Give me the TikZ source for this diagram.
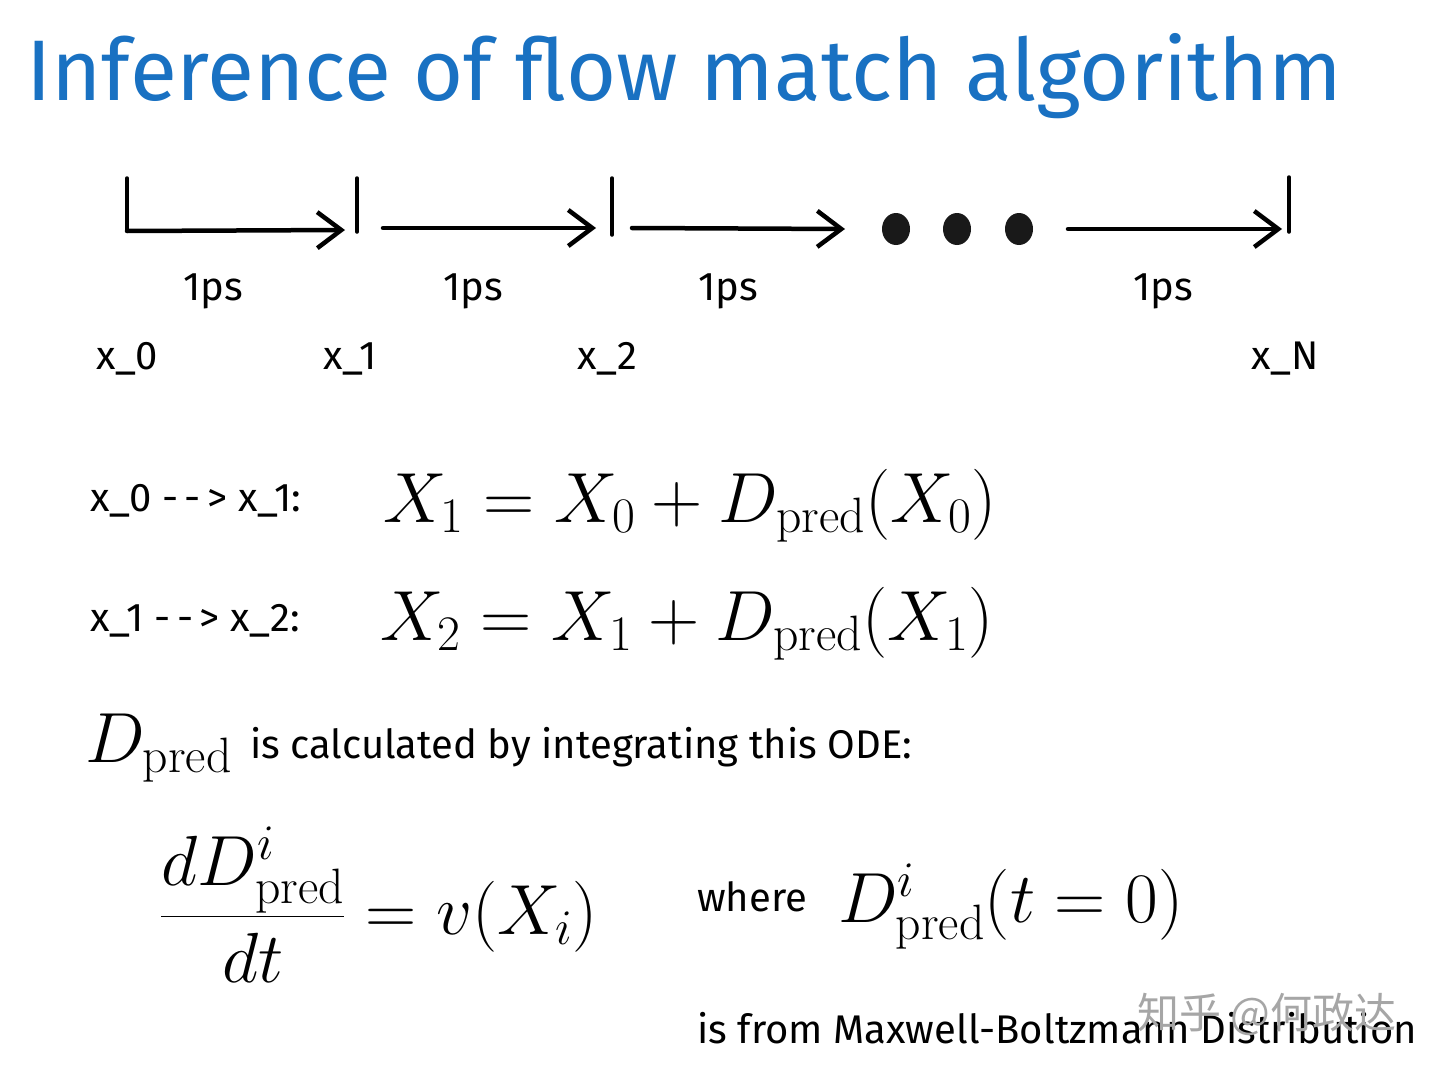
\documentclass[tikz,border=0pt]{standalone}
\usepackage{fix-cm}
\usepackage{amsmath}
\usepackage{fontspec}
\newfontfamily\handfont{Fira Sans}
\newfontfamily\cjkfont{Noto Sans CJK SC}
\usepackage{tikz}
\usetikzlibrary{arrows.meta, positioning, shapes.geometric}
\definecolor{titleblue}{HTML}{1971C2}

\begin{document}
\begin{tikzpicture}[
  x=1pt, y=-1pt,
  hand/.style={font=\handfont\fontsize{40}{48}\selectfont, inner sep=0pt},
  eq/.style={font=\fontsize{71}{85}\selectfont, inner sep=0pt},
  tick/.style={line width=3.5pt, line cap=round},
  steparrow/.style={line width=4.5pt, line cap=round, -{Straight Barb[length=24pt, width=36pt, line width=4.5pt]}},
  dotmark/.style={ellipse, fill=black!90, minimum width=28pt, minimum height=32pt, inner sep=0pt}
]
\useasboundingbox (0,0) rectangle (1440,1073);

% title
\node[font=\handfont\fontsize{86}{100}\selectfont, text=titleblue, anchor=base west, inner sep=0pt] (title) at (26,100) {Inference of flow match algorithm};

% time line
\coordinate (t0top) at (127,178);
\coordinate (t0) at (127,231);
\coordinate (t1top) at (357,178);
\coordinate (t1) at (357,232);
\coordinate (t2top) at (612,178);
\coordinate (t2) at (612,235);
\coordinate (tNtop) at (1289,177);
\coordinate (tN) at (1289,232);

\draw[tick] (t0top) -- (t0);
\draw[tick] (t1top) -- (t1);
\draw[tick] (t2top) -- (t2);
\draw[tick] (tNtop) -- (tN);

\node[dotmark] (dot1) at (896,229) {};
\node[dotmark] (dot2) at (957,229) {};
\node[dotmark] (dot3) at (1019,229) {};

\coordinate (s1) at (383,228);
\coordinate (e1) at (596,228);
\coordinate (s2) at (632,228);
\coordinate (e2) at (845,229);
\coordinate (s3) at (1068,229);
\coordinate (e3) at (1282,229);
\coordinate (e0) at (345,230);

\draw[steparrow] (t0) -- (e0);
\draw[steparrow] (s1) -- (e1);
\draw[steparrow] (s2) -- (e2);
\draw[steparrow] (s3) -- (e3);

\node[hand, anchor=base] (ps1) at (213,300) {1ps};
\node[hand, anchor=base] (ps2) at (473,300) {1ps};
\node[hand, anchor=base] (ps3) at (728,300) {1ps};
\node[hand, anchor=base] (ps4) at (1163,300) {1ps};

\node[hand, anchor=base] (x0) at (127,369) {x\_0};
\node[hand, anchor=base] (x1) at (350,369) {x\_1};
\node[hand, anchor=base] (x2) at (607,369) {x\_2};
\node[hand, anchor=base] (xN) at (1285,369) {x\_N};

% update steps
\node[hand, anchor=base west] (step1) at (90,511) {x\_0 -\,-\,> x\_1:};
\node[eq, anchor=base west] (eq1) at (383,522) {$X_1 = X_0 + D_{\mathrm{pred}}(X_0)$};
\node[hand, anchor=base west] (step2) at (90,631) {x\_1 -\,-\,> x\_2:};
\node[eq, anchor=base west] (eq2) at (380,640) {$X_2 = X_1 + D_{\mathrm{pred}}(X_1)$};

% ODE
\node[eq, anchor=base west] (dpred) at (85,762) {$D_{\mathrm{pred}}$};
\node[hand, anchor=base west] (odetext) at (250,758) {is calculated by integrating this ODE:};
\node[eq, anchor=base west] (ode) at (160,934) {$\displaystyle\frac{dD^i_{\mathrm{pred}}}{dt} = v(X_i)$};
\node[hand, anchor=base west] (where) at (697,911) {where};
\node[eq, anchor=base west] (init) at (838,922) {$D^i_{\mathrm{pred}}(t = 0)$};
\node[hand, anchor=base west] (mb) at (697,1043) {is from Maxwell-Boltzmann Distribution};

% watermark
\node[font=\cjkfont\fontsize{42}{50}\selectfont, text=black!35, anchor=base west, inner sep=0pt] (mark) at (1137,1028) {知乎 @何政达};

\end{tikzpicture}
\end{document}
